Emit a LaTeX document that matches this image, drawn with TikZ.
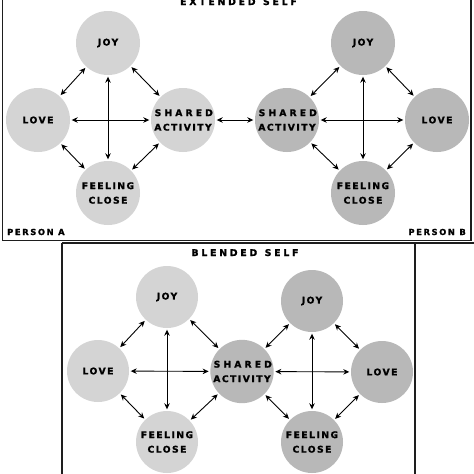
\documentclass[tikz,border=0pt]{standalone}
\usepackage{fontspec}
\usetikzlibrary{arrows.meta}
\newfontfamily\fA{DejaVu Sans Bold}[LetterSpace=16,FakeBold=1.5]
\newfontfamily\fS{DejaVu Sans Bold}[LetterSpace=34,FakeBold=1.5]
\newfontfamily\fP{DejaVu Sans Bold}[LetterSpace=20,FakeBold=1.5]
\newfontfamily\fT{DejaVu Sans Bold}[LetterSpace=30,FakeBold=1.5]
\definecolor{lightc}{RGB}{212,212,212}
\definecolor{darkc}{RGB}{184,184,184}
\definecolor{framec}{RGB}{30,30,30}
\begin{document}
\begin{tikzpicture}[x=1pt,y=-1pt,
  bub/.style={circle,inner sep=0pt,minimum size=#1,align=center,
    font=\fA\fontsize{9.2}{14.5}\selectfont},
  lt/.style={bub=64pt,fill=lightc},
  dk/.style={bub=64pt,fill=darkc},
  ltb/.style={bub=62pt,fill=lightc},
  dkb/.style={bub=62pt,fill=darkc},
  dbl/.style={{Stealth[length=6pt,width=5.5pt]}-{Stealth[length=6pt,width=5.5pt]},
    line width=0.9pt,shorten >=1.5pt,shorten <=1.5pt},
  frame/.style={draw=framec,line width=1.3pt},
  ptxt/.style={inner sep=0pt,font=\fP\fontsize{8.3}{10}\selectfont},
  ttxt/.style={inner sep=0pt,anchor=base,font=\fT\fontsize{9.3}{11}\selectfont}
]
\useasboundingbox (0,0) rectangle (474,474);
\clip (0,0) rectangle (474,474);
\fill[white] (0,0) rectangle (474,474);

% frames
\draw[frame] (2.5,-10) rectangle (471,240.5);
\draw[frame] (62,243) -- (474,243);
\draw[frame] (62,243) -- (62,480);
\draw[frame] (415,243) -- (415,480);

% titles and labels
\node[ttxt] (t1) at (238.5,5) {EXTENDED\, SELF};
\node[ttxt] (t2) at (245,256) {BLENDED\, SELF};
\node[ptxt,anchor=base west] (pa) at (7,235) {PERSON A};
\node[ptxt,anchor=base east] (pb) at (466,235) {PERSON B};

% top left (person A)
\node[lt] (aj) at (108,43) {JOY};
\node[lt] (al) at (38,120) {LOVE};
\node[lt] (as) at (183,120) {\kern1.5pt{\fS SHARED}\\ACTIVITY};
\node[lt] (af) at (108,193) {FEELING\\CLOSE};

% top right (person B)
\node[dk] (bj) at (363,43) {JOY};
\node[dk] (bs) at (287,120) {\kern1.5pt{\fS SHARED}\\ACTIVITY};
\node[dk] (bl) at (437,120) {LOVE};
\node[dk] (bf) at (363,193) {FEELING\\CLOSE};

\draw[dbl] (aj) -- (al);
\draw[dbl] (aj) -- (as);
\draw[dbl] (al) -- (af);
\draw[dbl] (as) -- (af);
\draw[dbl] (al) -- (as);
\draw[dbl] (aj) -- (af);
\draw[dbl] (as) -- (bs);
\draw[dbl] (bj) -- (bs);
\draw[dbl] (bj) -- (bl);
\draw[dbl] (bs) -- (bf);
\draw[dbl] (bl) -- (bf);
\draw[dbl] (bs) -- (bl);
\draw[dbl] (bj) -- (bf);

% bottom (blended)
\node[ltb] (cj) at (167,297) {JOY};
\node[ltb] (cl) at (98,371) {LOVE};
\node[ltb] (cf) at (167,442) {FEELING\\CLOSE};
\node[dkb] (cs) at (242,371.5) {\kern1.5pt{\fS SHARED}\\ACTIVITY};
\node[dkb] (dj) at (312,301) {JOY};
\node[dkb] (dl) at (382,372) {LOVE};
\node[dkb] (df) at (312,442) {FEELING\\CLOSE};

\draw[dbl] (cj) -- (cl);
\draw[dbl] (cj) -- (cs);
\draw[dbl] (cl) -- (cf);
\draw[dbl] (cs) -- (cf);
\draw[dbl] (cl) -- (cs);
\draw[dbl] (cj) -- (cf);
\draw[dbl] (dj) -- (cs);
\draw[dbl] (dj) -- (dl);
\draw[dbl] (cs) -- (df);
\draw[dbl] (dl) -- (df);
\draw[dbl] (cs) -- (dl);
\draw[dbl] (dj) -- (df);
\end{tikzpicture}
\end{document}
